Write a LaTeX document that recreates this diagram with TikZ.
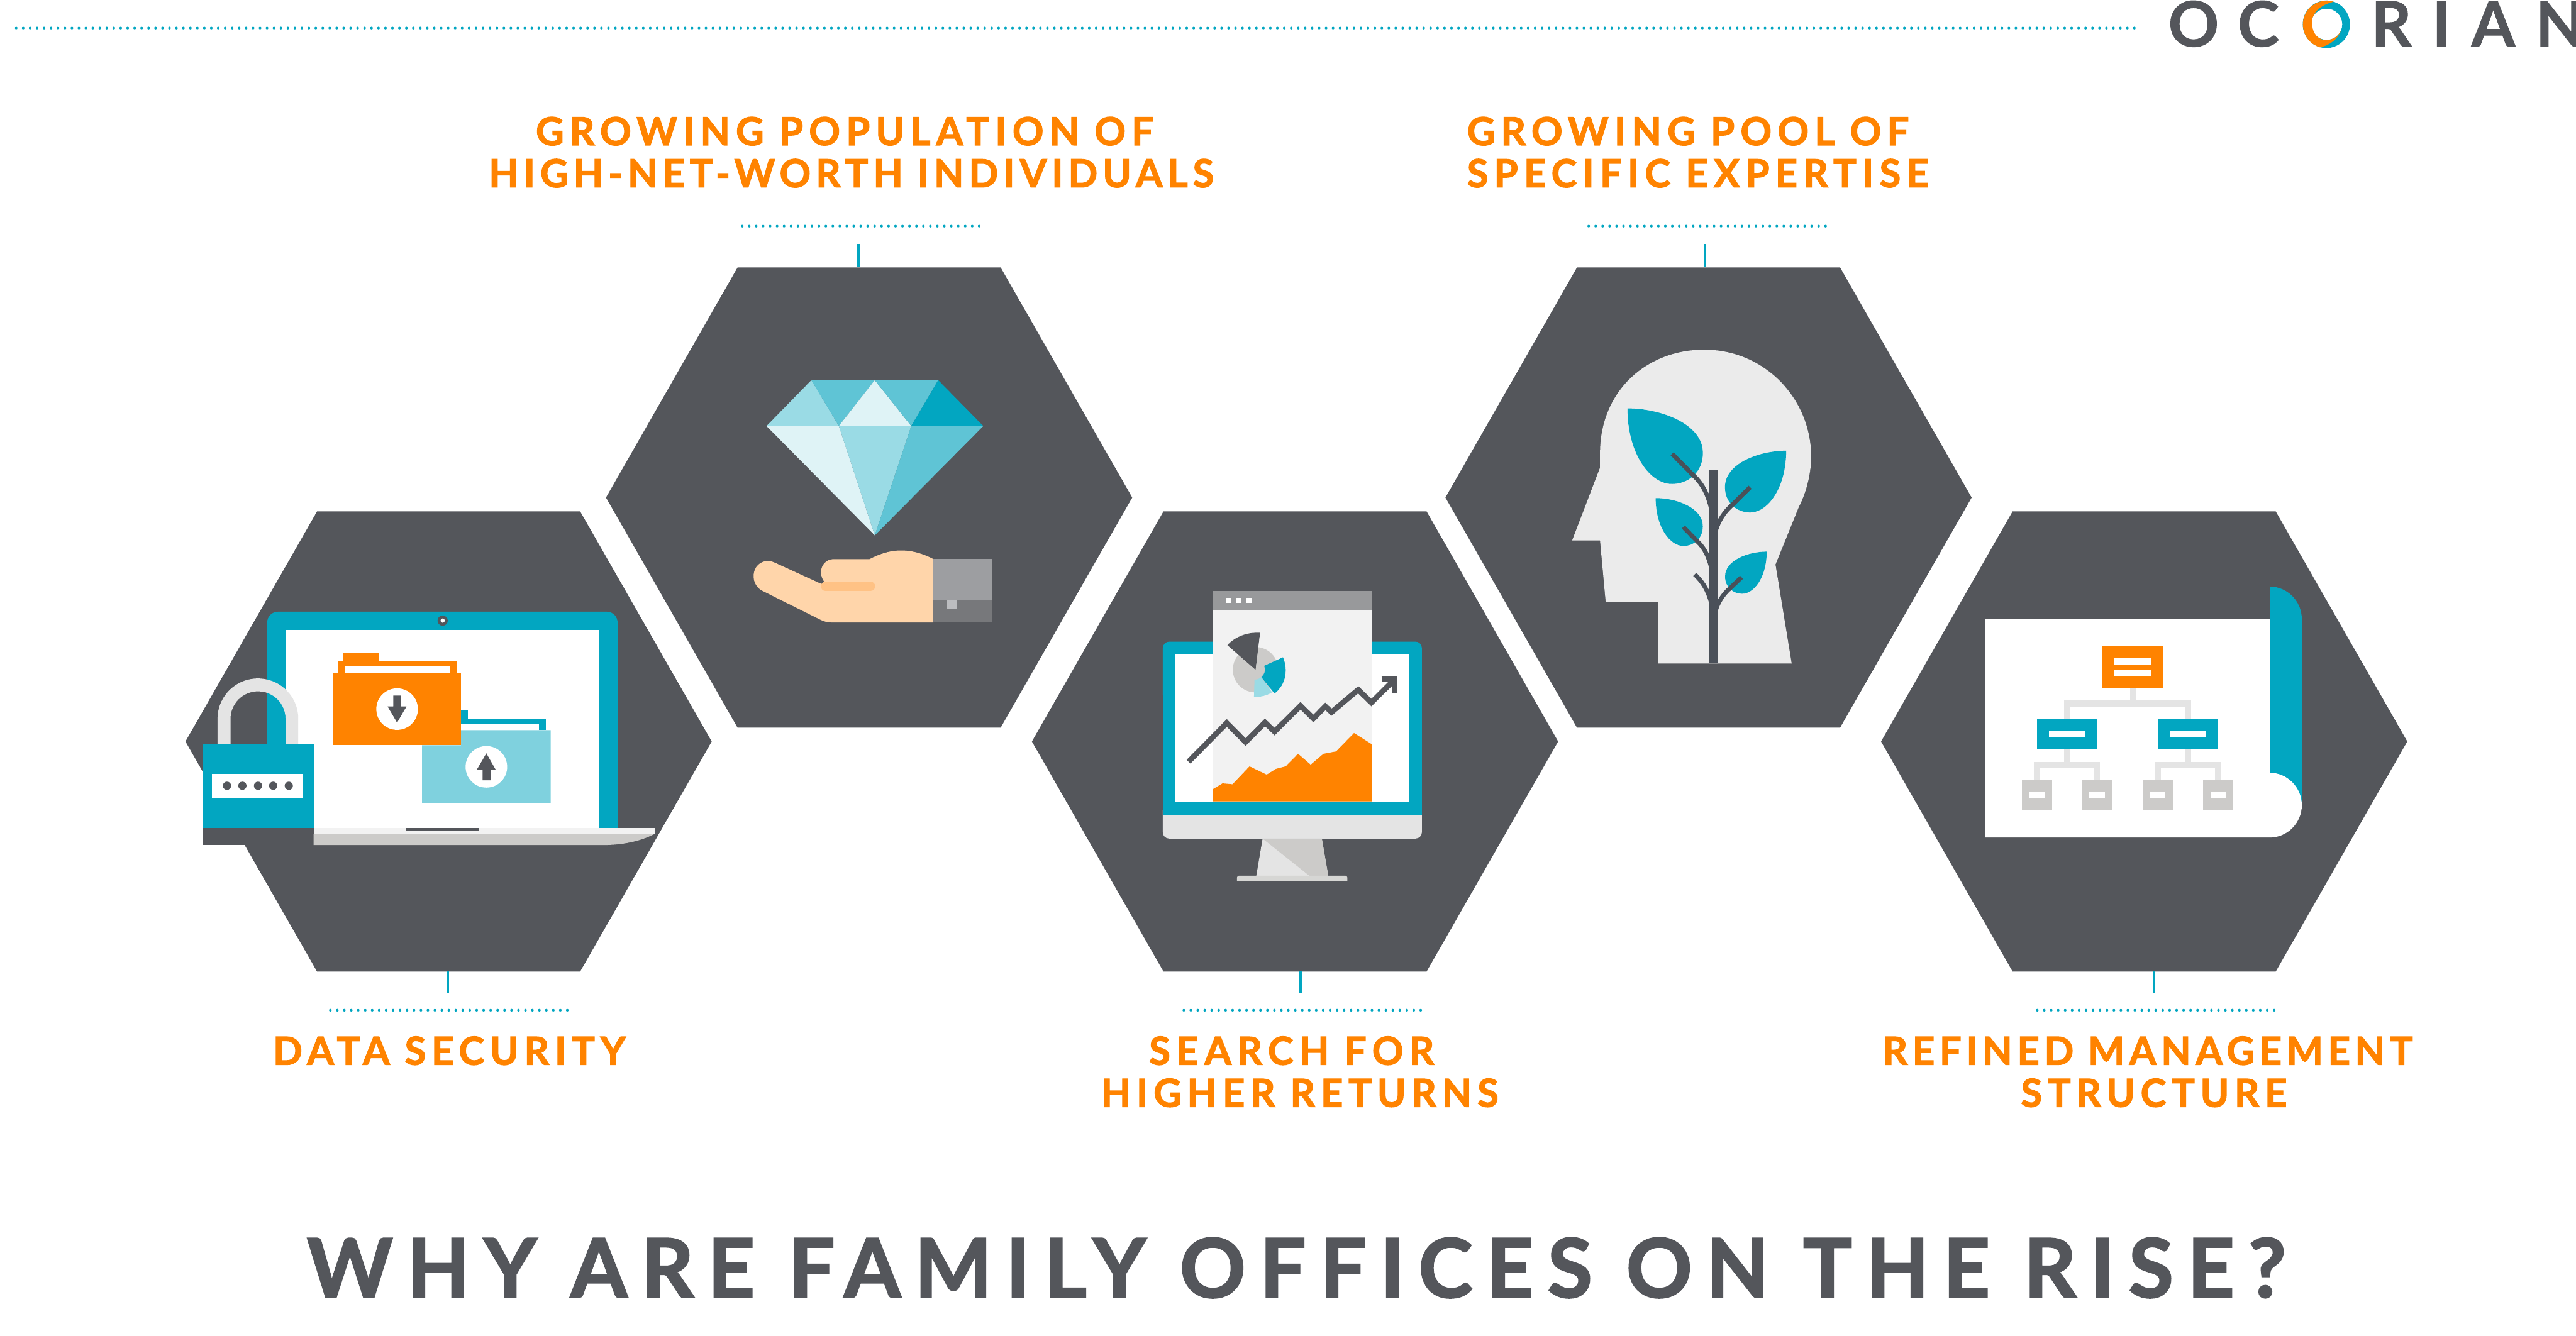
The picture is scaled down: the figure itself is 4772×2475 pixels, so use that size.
\documentclass[tikz,border=0pt]{standalone}
\usepackage{fontspec}
\usetikzlibrary{shapes.geometric}
\newfontfamily\labelfont[BoldFeatures={FakeBold=2}]{Lato}
\newfontfamily\titlefont[LetterSpace=17.2,BoldFeatures={FakeBold=2}]{Lato}
\newfontfamily\logofont[BoldFeatures={FakeBold=1}]{Lato}
\definecolor{hexgray}{HTML}{54565B}
\definecolor{ocorange}{HTML}{FF8300}
\definecolor{octeal}{HTML}{02A6C1}
\definecolor{tealpale}{HTML}{DFF3F6}
\definecolor{tealsoft}{HTML}{9ADBE5}
\definecolor{tealmid}{HTML}{5FC4D5}
\definecolor{tealfolder}{HTML}{7FD1DE}
\definecolor{silver}{HTML}{E4E4E4}
\definecolor{stone}{HTML}{CCCBC9}
\definecolor{headgray}{HTML}{EBEBEB}
\definecolor{pagegray}{HTML}{F2F2F2}
\definecolor{stemgray}{HTML}{4A5059}
\definecolor{skin}{HTML}{FFD5AA}
\definecolor{skindark}{HTML}{FFC285}
\definecolor{cufflight}{HTML}{9D9EA1}
\definecolor{cuffdark}{HTML}{77787B}
\definecolor{cuffbutton}{HTML}{BCBDC0}
\definecolor{headerbar}{HTML}{98999B}
\definecolor{footgray}{HTML}{D6D6D4}
\tikzset{
  hexa/.style={regular polygon,regular polygon sides=6,shape border rotate=0,
    minimum size=9.84cm,inner sep=0pt,outer sep=0pt,fill=hexgray,transform shape,xscale=0.99},
  ticker/.style={octeal,line width=0.045cm},
  dotline/.style={octeal,line width=0.05cm,line cap=round,dash pattern=on 0pt off 0.129cm},
  toplabel/.style={anchor=base west,inner sep=0pt,text=ocorange,
    font=\labelfont\bfseries\addfontfeature{LetterSpace=#1}\fontsize{20.4}{25}\selectfont},
  titletext/.style={anchor=base west,inner sep=0pt,text=hexgray,font=\titlefont\bfseries\fontsize{43}{50}\selectfont},
  logotext/.style={anchor=base west,inner sep=0pt,text=hexgray,
    font=\logofont\bfseries\addfontfeature{LetterSpace=#1}\fontsize{33}{40}\selectfont},
  orgline/.style={silver,line width=0.11cm},
  orgtop/.style={fill=ocorange,minimum width=1.12cm,minimum height=0.79cm,inner sep=0pt,outer sep=0pt},
  orgmid/.style={fill=octeal,minimum width=1.12cm,minimum height=0.563cm,inner sep=0pt,outer sep=0pt},
  orglow/.style={fill=stone,minimum width=0.56cm,minimum height=0.567cm,inner sep=0pt,outer sep=0pt},
  barwide/.style={fill=white,minimum width=0.675cm,minimum height=0.117cm,inner sep=0pt,outer sep=0pt},
  barshort/.style={fill=white,minimum width=0.286cm,minimum height=0.117cm,inner sep=0pt,outer sep=0pt},
  branch/.style={stemgray,line width=0.08cm},
  leaf/.style={fill=octeal}
}
\begin{document}
\begin{tikzpicture}[x=0.01cm,y=-0.01cm]
  \useasboundingbox (0,0) rectangle (4772,2475);
  \fill[white] (0,0) rectangle (4772,2475);

  \node[hexa] (hexsec) at (831,1374) {};
  \node[hexa] (hexpop) at (1610,922) {};
  \node[hexa] (hexret) at (2399,1374) {};
  \node[hexa] (hexpool) at (3165,922) {};
  \node[hexa] (hexmgmt) at (3972,1374) {};

  \coordinate (ticksec) at (829,1839);
  \coordinate (tickpop) at (1590,452);
  \coordinate (tickret) at (2409,1839);
  \coordinate (tickpool) at (3159,452);
  \coordinate (tickmgmt) at (3990,1839);
  \draw[ticker] (ticksec) -- (ticksec |- hexsec.south);
  \draw[ticker] (tickpop) -- (tickpop |- hexpop.north);
  \draw[ticker] (tickret) -- (tickret |- hexret.south);
  \draw[ticker] (tickpool) -- (tickpool |- hexpool.north);
  \draw[ticker] (tickmgmt) -- (tickmgmt |- hexmgmt.south);

  \draw[dotline] (30,52) -- (3962,52);
  \draw[dotline] (1375,419) -- (1820,419);
  \draw[dotline] (2943,419) -- (3386,419);
  \draw[dotline] (612,1872) -- (1057,1872);
  \draw[dotline] (2193,1872) -- (2640,1872);
  \draw[dotline] (3774,1872) -- (4218,1872);

  \node[toplabel=14.9] (labpopa) at (992,269) {GROWING POPULATION OF};
  \node[toplabel=12.9] (labpopb) at (905,347) {HIGH-NET-WORTH INDIVIDUALS};
  \node[toplabel=15] (labpoola) at (2717,269) {GROWING POOL OF};
  \node[toplabel=14.9] (labpoolb) at (2717,347) {SPECIFIC EXPERTISE};
  \node[toplabel=14.3] (labsec) at (505,1973) {DATA SECURITY};
  \node[toplabel=15.3] (labreta) at (2128,1973) {SEARCH FOR};
  \node[toplabel=14.3] (labretb) at (2039,2051) {HIGHER RETURNS};
  \node[toplabel=12.4] (labmgmta) at (3487,1973) {REFINED MANAGEMENT};
  \node[toplabel=14] (labmgmtb) at (3743,2051) {STRUCTURE};
  \node[titletext] (title) at (568,2404) {WHY ARE FAMILY OFFICES ON THE RISE?};

  \node[logotext=30] (logoa) at (4016,86) {OC};
  \node[logotext=33] (logob) at (4392,86) {RIAN};
  \fill[octeal,even odd rule] (4309.5,45) ellipse (43.7 and 44) (4310,45) ellipse (29 and 29);
  \fill[ocorange] (4322.7,3.3) .. controls (4303,8) and (4289,18) .. (4283.8,33.3)
    .. controls (4280,55) and (4290,74.3) .. (4308.8,74.3)
    .. controls (4321,74.3) and (4331,68) .. (4336.6,56.7)
    .. controls (4331,72) and (4316,84) .. (4297.7,87.7)
    .. controls (4279,82) and (4266,65) .. (4266,45)
    .. controls (4266,22) and (4285,1) .. (4311.6,1) .. controls (4316,1) and (4319,2) .. (4322.7,3.3) -- cycle;

  \fill[octeal,rounded corners=0.2cm] (495,1300) -- (495,1133.5) -- (1144,1133.5) -- (1144,1300) -- cycle;
  \fill[octeal] (495,1200) rectangle (1144,1534);
  \fill[white] (529,1167) rectangle (1110,1534);
  \fill[hexgray] (820,1150) circle (9.5);
  \fill[white] (820,1150) circle (4);
  \fill[ocorange] (616,1246) rectangle (854,1381);
  \fill[ocorange] (626,1225) rectangle (846,1246);
  \fill[ocorange] (636,1210) rectangle (702,1225);
  \fill[white] (639,1235.5) rectangle (832.5,1246);
  \fill[octeal] (854,1332) rectangle (1011,1353);
  \fill[octeal] (854,1317) rectangle (867,1332);
  \fill[white] (854,1342.5) rectangle (998,1353);
  \fill[tealfolder] (782,1381) -- (854,1381) -- (854,1353) -- (1020,1353) -- (1020,1488) -- (782,1488) -- cycle;
  \fill[white] (735.6,1314) circle (38.5);
  \fill[white] (901,1421) circle (38.5);
  \fill[hexgray] (728.6,1289) -- (743,1289) -- (743,1309) -- (753,1309) -- (735.6,1339) -- (718,1309) -- (728.6,1309) -- cycle;
  \fill[hexgray] (894,1446) -- (908.5,1446) -- (908.5,1426) -- (918,1426) -- (901,1396) -- (883.5,1426) -- (894,1426) -- cycle;
  \fill[silver,even odd rule] (403,1379) -- (403,1332) arc (180:360:74.75) -- (552.5,1379) -- cycle
    (427,1379) -- (427,1332) arc (180:360:51) -- (529,1379) -- cycle;
  \fill[octeal] (375,1379) rectangle (581,1534);
  \fill[white] (393,1434) rectangle (562,1478);
  \fill[hexgray] (420.5,1456) circle (7.6);
  \fill[hexgray] (449,1456) circle (7.6);
  \fill[hexgray] (478,1456) circle (7.6);
  \fill[hexgray] (506,1456) circle (7.6);
  \fill[hexgray] (535,1456) circle (7.6);
  \fill[hexgray] (375,1534) rectangle (581,1566);
  \fill[stone] (581,1545) -- (1213,1545) .. controls (1185,1560) and (1150,1566) .. (1116,1566) -- (581,1566) -- cycle;
  \fill[pagegray] (581,1534) rectangle (1213,1545);
  \fill[hexgray] (751.5,1534) rectangle (888,1540);

  \fill[tealsoft] (1420,789.5) -- (1503,704.5) -- (1554,789.5) -- cycle;
  \fill[tealmid] (1503,704.5) -- (1620.5,704.5) -- (1554,789.5) -- cycle;
  \fill[tealpale] (1554,789.5) -- (1620.5,704.5) -- (1688,789.5) -- cycle;
  \fill[tealmid] (1620.5,704.5) -- (1738,704.5) -- (1688,789.5) -- cycle;
  \fill[octeal] (1738,704.5) -- (1821.5,789.5) -- (1688,789.5) -- cycle;
  \fill[tealpale] (1420,789.5) -- (1554,789.5) -- (1620.5,992) -- cycle;
  \fill[tealsoft] (1554,789.5) -- (1688,789.5) -- (1620.5,992) -- cycle;
  \fill[tealmid] (1688,789.5) -- (1821.5,789.5) -- (1620.5,992) -- cycle;
  \fill[skin] (1434.7,1042.4) -- (1521.8,1082.2) -- (1527,1078) .. controls (1523,1073) and (1521,1067) .. (1521,1060)
    .. controls (1521,1047) and (1531,1036) .. (1544.6,1036) -- (1611,1036)
    .. controls (1630,1026) and (1650,1020) .. (1669,1020) .. controls (1690,1020) and (1710,1026) .. (1729,1036)
    -- (1729,1153.5) -- (1540.5,1153.5) .. controls (1532,1153.5) and (1525,1151) .. (1517.7,1147.3)
    -- (1412,1094.6) .. controls (1403,1090) and (1396,1080) .. (1396,1067.7)
    .. controls (1396,1050) and (1409,1039.5) .. (1422.3,1039.5) .. controls (1427,1039.5) and (1431,1040.5) .. (1434.7,1042.4) -- cycle;
  \fill[skindark,rounded corners=0.08cm] (1521,1078) rectangle (1621,1095);
  \fill[cufflight] (1729,1036) rectangle (1838,1112);
  \fill[cuffdark] (1729,1112) rectangle (1838,1153.5);
  \fill[cuffbutton] (1755,1112) rectangle (1772,1128.6);

  \fill[octeal,rounded corners=0.12cm] (2154,1300) -- (2154,1189) -- (2634,1189) -- (2634,1300) -- cycle;
  \fill[octeal] (2154,1280) rectangle (2634,1510);
  \fill[silver,rounded corners=0.12cm] (2154,1490) -- (2154,1554) -- (2634,1554) -- (2634,1490) -- cycle;
  \fill[octeal] (2154,1480) rectangle (2634,1510);
  \fill[white] (2178,1213) rectangle (2610,1485);
  \fill[silver] (2339,1554) -- (2448.6,1554) -- (2460.5,1622.6) -- (2327.3,1622.6) -- cycle;
  \fill[stone] (2339,1554) -- (2448.6,1554) -- (2460.5,1622.6) -- (2425.3,1622.6) -- cycle;
  \fill[footgray,rounded corners=0.04cm] (2291.4,1640) -- (2291.4,1622.6) -- (2496,1622.6) -- (2496,1640) -- cycle;
  \fill[hexgray] (2285,1632.5) rectangle (2500,1645);
  \fill[pagegray] (2246,1130) rectangle (2542,1485);
  \fill[headerbar] (2246,1095.5) rectangle (2542,1130);
  \fill[white] (2272,1108) rectangle (2281.4,1117);
  \fill[white] (2290.6,1108) rectangle (2299.8,1117);
  \fill[white] (2309,1108) rectangle (2318,1117);
  \fill[stone] (2325.8,1241) circle (42);
  \fill[hexgray] (2273.7,1195.5) .. controls (2288,1180) and (2310,1171) .. (2334.2,1172.6) -- (2325.8,1241) -- cycle;
  \fill[octeal] (2341.9,1233.9) -- (2376.7,1218) .. controls (2386,1240) and (2383,1268) .. (2361,1285)
    -- (2336.5,1254.8) .. controls (2343,1250) and (2345,1241) .. (2341.9,1233.9) -- cycle;
  \fill[tealsoft] (2323.9,1259.6) .. controls (2329,1259) and (2333,1258) .. (2336.5,1254.8) -- (2356.4,1283)
    .. controls (2346,1289) and (2335,1292) .. (2323,1291) -- cycle;
  \fill[ocorange] (2246.2,1485) -- (2246.2,1462.8) -- (2264.6,1451.7) -- (2283.3,1453.3) -- (2314.7,1420.1)
    -- (2346.5,1435.5) -- (2363.7,1424.8) -- (2381.7,1420.1) -- (2404.6,1396.8) -- (2428,1417) -- (2451.7,1396.8)
    -- (2475,1392.4) -- (2508.3,1358.4) -- (2541.6,1379.4) -- (2541.6,1485) -- cycle;
  \draw[hexgray,line width=0.1cm,miter limit=10] (2201.8,1411.4) -- (2272.6,1339.8) -- (2307.4,1375) -- (2343.4,1338.7)
    -- (2361,1355.7) -- (2409.2,1307.8) -- (2433,1331.5) -- (2455.1,1309) -- (2466.6,1319.7) -- (2516,1278.2)
    -- (2540.5,1301.9) -- (2584,1258.5);
  \draw[hexgray,line width=0.095cm] (2559,1258.5) -- (2584,1258.5) -- (2584,1283.3);

  \fill[headgray] (2964,866.7) -- (2964,840) .. controls (2964,725) and (3050,648) .. (3157,648)
    .. controls (3270,648) and (3355,740) .. (3355,846) .. controls (3355,880) and (3345,915) .. (3332.3,939.2)
    -- (3289,1046) -- (3319,1229.5) -- (3072,1229.5) -- (3072,1115.4) -- (2974.5,1115.4) -- (2964,1001.4) -- (2912.4,1001.4) -- cycle;
  \foreach \lx/\ly/\lw/\lh in {3014.9/756.8/139.6/140, 3308.8/835.2/-113.3/114.4, 3067.1/923/87.3/88.7, 3272.7/1022.2/-77/78}
    \fill[leaf,shift={(\lx,\ly)},xscale=\lw,yscale=\lh] (0,0) .. controls (0.43,0) and (1,0.2) .. (1,0.59)
      .. controls (1,0.85) and (0.8,1) .. (0.59,1) .. controls (0.3,1) and (0,0.6) .. (0,0) -- cycle;
  \draw[branch] (3097.6,841) -- (3139.4,883.3) .. controls (3160,903) and (3172,935) .. (3174.4,975);
  \draw[branch] (3242.1,902.8) -- (3209.5,935) .. controls (3190,952) and (3177,975) .. (3174.4,1005);
  \draw[branch] (3118.3,976.5) -- (3144.6,1003.5) .. controls (3162,1020) and (3172,1045) .. (3174.4,1085);
  \draw[branch] (3226,1069.8) -- (3204.3,1090.6) .. controls (3188,1105) and (3177,1125) .. (3174.4,1150);
  \draw[branch] (3139.4,1064.4) .. controls (3160,1083) and (3172,1110) .. (3174.4,1145);
  \fill[stemgray] (3166.4,870.8) rectangle (3183.2,1229.5);

  \fill[octeal] (4204.7,1087) .. controls (4237,1087) and (4264,1114) .. (4264,1147) -- (4264,1492) -- (4204.7,1432) -- cycle;
  \fill[white] (3678,1147) -- (4204.7,1147) -- (4204.7,1432) .. controls (4237,1432) and (4264,1459) .. (4264,1492)
    .. controls (4264,1525) and (4237,1552) .. (4204.7,1552) -- (3678,1552) -- cycle;

  \node[orgtop] (orgroot) at (3951,1236.5) {};
  \node[orgmid] (orgmidl) at (3829,1361) {};
  \node[orgmid] (orgmidr) at (4053,1361) {};
  \node[orglow] (orglowa) at (3773,1473.7) {};
  \node[orglow] (orglowb) at (3885,1473.7) {};
  \node[orglow] (orglowc) at (3997,1473.7) {};
  \node[orglow] (orglowd) at (4109,1473.7) {};
  \draw[orgline] (orgroot.south) -- ++(0,27.8) -| (orgmidl.north);
  \draw[orgline] (orgroot.south) -- ++(0,27.8) -| (orgmidr.north);
  \draw[orgline] (orgmidl.south) -- ++(0,28.3) -| (orglowa.north);
  \draw[orgline] (orgmidl.south) -- ++(0,28.3) -| (orglowb.north);
  \draw[orgline] (orgmidr.south) -- ++(0,28.3) -| (orglowc.north);
  \draw[orgline] (orgmidr.south) -- ++(0,28.3) -| (orglowd.north);
  \node[barwide] (barroota) at (3951,1225) {};
  \node[barwide] (barrootb) at (3951,1248) {};
  \node[barwide] (barmidl) at (orgmidl) {};
  \node[barwide] (barmidr) at (orgmidr) {};
  \node[barshort] (barlowa) at (orglowa) {};
  \node[barshort] (barlowb) at (orglowb) {};
  \node[barshort] (barlowc) at (orglowc) {};
  \node[barshort] (barlowd) at (orglowd) {};
\end{tikzpicture}
\end{document}
